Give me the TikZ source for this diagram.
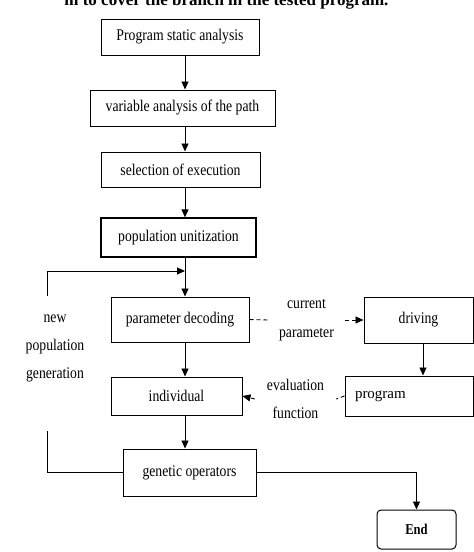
\documentclass[tikz,border=0pt]{standalone}
\usepackage{fontspec}
\setmainfont{Liberation Serif}
\newfontfamily\cond[FakeStretch=0.84]{Liberation Serif}
\usetikzlibrary{arrows.meta}
\begin{document}
\begin{tikzpicture}[x=1pt,y=-1pt,
  box/.style={draw, line width=1pt, inner sep=0pt, align=center, font=\cond\fontsize{16.3}{18}\selectfont},
  lbl/.style={inner sep=0pt, align=center, font=\cond\fontsize{16.3}{28.3}\selectfont},
  arr/.style={line width=0.9pt, -{Triangle[length=8pt,width=7pt]}},
  ln/.style={line width=0.9pt},
  dsh/.style={line width=0.9pt, dash pattern=on 4pt off 3pt}]
\useasboundingbox (0,0) rectangle (474,552);
\node[anchor=base east, font=\bfseries\fontsize{17}{19}\selectfont] (cap) at (392,5) {m to cover the branch in the tested program.};
\node[box, minimum width=158pt, minimum height=36pt] (b1) at (180,37) {Program static analysis};
\node[box, minimum width=185pt, minimum height=36pt] (b2) at (182.5,108) {variable analysis of the path};
\node[box, minimum width=159pt, minimum height=35pt] (b3) at (180.5,169.5) {selection of execution};
\node[box, minimum width=155pt, minimum height=39pt, line width=1.3pt] (b4) at (178.5,237.5) {population unitization};
\node[box, minimum width=138pt, minimum height=45pt] (b5) at (180,319.5) {parameter decoding};
\node[box, minimum width=109pt, minimum height=46pt] (b6) at (418.5,320) {driving};
\node[box, minimum width=131pt, minimum height=38pt] (b7) at (176.5,396) {individual};
\node[box, minimum height=40pt, inner xsep=10pt, text width=108pt, align=left, font=\fontsize{15}{17}\selectfont] (b8) at (409,396) {program};
\node[box, minimum width=133pt, minimum height=47pt] (b9) at (189.5,472.5) {genetic operators};
\node[box, minimum width=79pt, minimum height=39pt, rounded corners=4pt, font=\cond\bfseries\fontsize{15}{17}\selectfont] (b10) at (416.5,529.5) {End};
\node[lbl, minimum width=77pt] (cur) at (306.5,320) {current\\parameter};
\node[lbl, minimum width=81pt] (ev) at (295.5,399) {evaluation\\function};
\node[lbl] (np) at (55,348.5) {new\\population\\generation};
\coordinate (ax) at (185,0);
\coordinate (dx) at (423,0);
\coordinate (L1) at (47,296);
\coordinate (L2) at (47,271);
\coordinate (L3) at (185,271);
\coordinate (L4) at (47,431);
\draw[arr] (b1.south -| ax) -- (b2.north -| ax);
\draw[arr] (b2.south -| ax) -- (b3.north -| ax);
\draw[arr] (b3.south -| ax) -- (b4.north -| ax);
\draw[arr] (b4.south -| ax) -- (b5.north -| ax);
\draw[arr] (b5.south -| ax) -- (b7.north -| ax);
\draw[arr] (b7.south -| ax) -- (b9.north -| ax);
\draw[arr] (b6.south -| dx) -- (b8.north -| dx);
\draw[dsh] (b5.east) -- (cur.west);
\draw[dsh, -{Triangle[length=8pt,width=7pt]}] (cur.east) -- (b6.west);
\draw[dsh] (b8.west) -- (ev.east);
\draw[dsh, -{Triangle[length=8pt,width=7pt]}] (ev.west) -- (b7.east);
\draw[ln] (b9.west) -- (b9.west -| L4) -- (L4);
\draw[arr] (L1) -- (L2) -- (L3);
\draw[arr] (b9.east) -| (b10.north);
\end{tikzpicture}
\end{document}
